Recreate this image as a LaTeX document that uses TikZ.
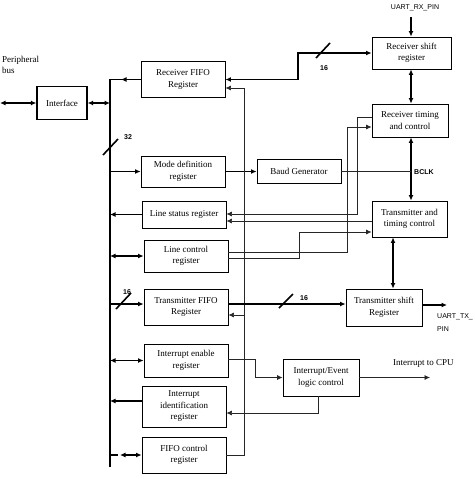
\documentclass[tikz,border=0pt]{standalone}
\usepackage{fontspec}
\setmainfont{Liberation Serif}
\setsansfont{Liberation Sans}
\usetikzlibrary{arrows.meta,calc}
\newcommand\fs{\fontsize{9}{11.5}\selectfont}
\tikzset{
  box/.style={draw, line width=0.9pt, align=center, inner sep=1pt, font=\fs},
  thk/.style={line width=1.6pt},
  med/.style={line width=1.1pt},
  thn/.style={line width=0.7pt, black!85},
  tip/.style={-{Latex[length=5.5pt,width=5pt]}},
  tips/.style={{Latex[length=5.5pt,width=5pt]}-{Latex[length=5.5pt,width=5pt]}},
  lbl/.style={font=\fontsize{7}{8}\selectfont\sffamily\bfseries, inner sep=0pt},
  pin/.style={font=\fontsize{7}{13}\selectfont\sffamily, inner sep=0pt, align=left},
  txt/.style={font=\fs, inner sep=0pt, align=left},
}
\begin{document}
\begin{tikzpicture}[x=1pt,y=-1pt]
\useasboundingbox (0,0) rectangle (474,479);
% boxes
\node[box, line width=1.3pt, minimum width=50pt, minimum height=33pt] (iface) at (62,103) {Interface};
\node[box, minimum width=84pt, minimum height=36pt] (rxfifo) at (183,79.5) {Receiver FIFO\\Register};
\node[box, minimum width=79pt, minimum height=32pt] (rsr) at (411.5,53) {Receiver shift\\register};
\node[box, minimum width=76pt, minimum height=33pt] (rtc) at (410,120.5) {Receiver timing\\and control};
\node[box, minimum width=84pt, minimum height=31pt] (mode) at (183,171.5) {Mode definition\\register};
\node[box, minimum width=84pt, minimum height=27pt] (lsr) at (184,214.5) {Line status register};
\node[box, minimum width=84pt, minimum height=32pt] (lcr) at (186,256) {Line control\\register};
\node[box, minimum width=84pt, minimum height=36pt] (txfifo) at (186,307) {Transmitter FIFO\\Register};
\node[box, minimum width=84pt, minimum height=24pt] (baud) at (299,171.5) {Baud Generator};
\node[box, minimum width=75pt, minimum height=36pt] (ttc) at (409.5,219) {Transmitter and\\timing control};
\node[box, minimum width=76pt, minimum height=37pt] (tsr) at (384,307.5) {Transmitter shift\\Register};
\node[box, minimum width=84pt, minimum height=33pt] (ier) at (186,360.5) {Interrupt enable\\register};
\node[box, minimum width=84pt, minimum height=41pt] (iir) at (184,406.5) {Interrupt\\identification\\register};
\node[box, minimum width=84pt, minimum height=36pt] (fcr) at (184,455) {FIFO control\\register};
\node[box, minimum width=76pt, minimum height=37pt] (iel) at (321,377.5) {Interrupt/Event\\logic control};
% labels
\node[txt, anchor=north west] (pbus) at (2,56) {Peripheral\\bus};
\node[pin] (rxpin) at (415,8) {UART\_RX\_PIN};
\node[pin, anchor=west] (txpin) at (437,323) {UART\_TX\_\\PIN};
\node[txt, anchor=west] (cpu) at (393,363) {Interrupt to CPU};
\node[lbl, anchor=west] (bclk) at (414,172) {BCLK};
\node[lbl] (l32) at (128,137) {32};
\node[lbl] (l16a) at (324,68) {16};
\node[lbl] (l16b) at (127,292) {16};
\node[lbl] (l16c) at (304,298) {16};
% coordinates
\coordinate (bus) at (110,0);
\coordinate (bustop) at (110,79.5);
\coordinate (busbot) at (110,467);
\coordinate (fv) at (244,0);
\coordinate (cx) at (411,0);
\coordinate (tx) at (393,0);
\coordinate (pl) at (0,103);
\coordinate (ty) at (0,304);
\coordinate (txout) at (447,305);
\coordinate (cpuend) at (430,0);
\coordinate (rxtop) at (411,17);
% bus
\draw[line width=1.8pt] (122,79.5) -- (bustop) -- (busbot);
\draw[thk, tips] (pl) -- (iface.west);
\draw[thk, tips] (iface.east) -- (iface.east -| bus);
\draw[thk, tip] (rxfifo.west) -- (121,79.5);
\draw[thk] (103,155) -- (118,139);
\draw[thk, tip] (mode.west -| bus) -- (mode.west);
\draw[thk, tip] (mode.east) -- (baud.west);
\draw[thk, tip] (lsr.west) -- (lsr.west -| bus);
\draw[thk, tips] (lcr.west -| bus) -- (lcr.west);
\draw[thk, tip] (bus |- ty) -- (txfifo.west |- ty);
\draw[thk] (116,309) -- (131,293);
\draw[thk, tips] (bus |- ier.west) -- (ier.west);
\draw[thk, tip] (iir.west |- 0,401) -- (bus |- 0,401);
\draw[thk] (bus |- fcr.west) -- (118,455);
\draw[thk, tips] (120,455) -- (fcr.west);
% receiver path
\draw[thk, tips] (rxfifo.east) -- (298,79.5) |- (rsr.west);
\draw[thk] (316,58) -- (330,43);
\draw[med, tip] (rxtop) -- (rsr.north -| cx);
\draw[med, tips] (rsr.south -| cx) -- (rtc.north -| cx);
\draw[med, tips] (rtc.south -| cx) -- (ttc.north -| cx);
\draw[thn] (baud.east) -- (baud.east -| cx);
% fifo control
\draw[thn, tip] (fcr.east) -- (fcr.east -| fv) -- (fv |- 0,88) -- (rxfifo.east |- 0,88);
\draw[thn, tip] (fv |- 0,315) -- (txfifo.east |- 0,315);
% line status / control
\draw[thn, tip] (rtc.west |- 0,117) -- (357,117) -- (357,214) -- (lsr.east |- 0,214);
\draw[thn, tip] (lcr.east |- 0,252) -- (347,252) -- (347,127) -- (rtc.west |- 0,127);
\draw[thn, tip] (ttc.west |- 0,221) -- (lsr.east |- 0,221);
\draw[thn, tip] (lcr.east |- 0,258) -- (299,258) -- (299,232) -- (ttc.west |- 0,232);
% transmitter
\draw[med, tips] (ttc.south -| tx) -- (tsr.north -| tx);
\draw[thk, tip] (txfifo.east |- ty) -- (tsr.west |- ty);
\draw[thk] (279,308) -- (293,294);
\draw[thk, tip] (tsr.east |- txout) -- (txout);
% interrupts
\draw[thn, tip] (ier.east |- 0,359) -- (255,359) |- (iel.west);
\draw[thn, tip] (iel.south -| 318,0) |- (iir.east |- 0,413);
\draw[thn, tip] (iel.east) -- (iel.east -| cpuend);
\end{tikzpicture}
\end{document}
